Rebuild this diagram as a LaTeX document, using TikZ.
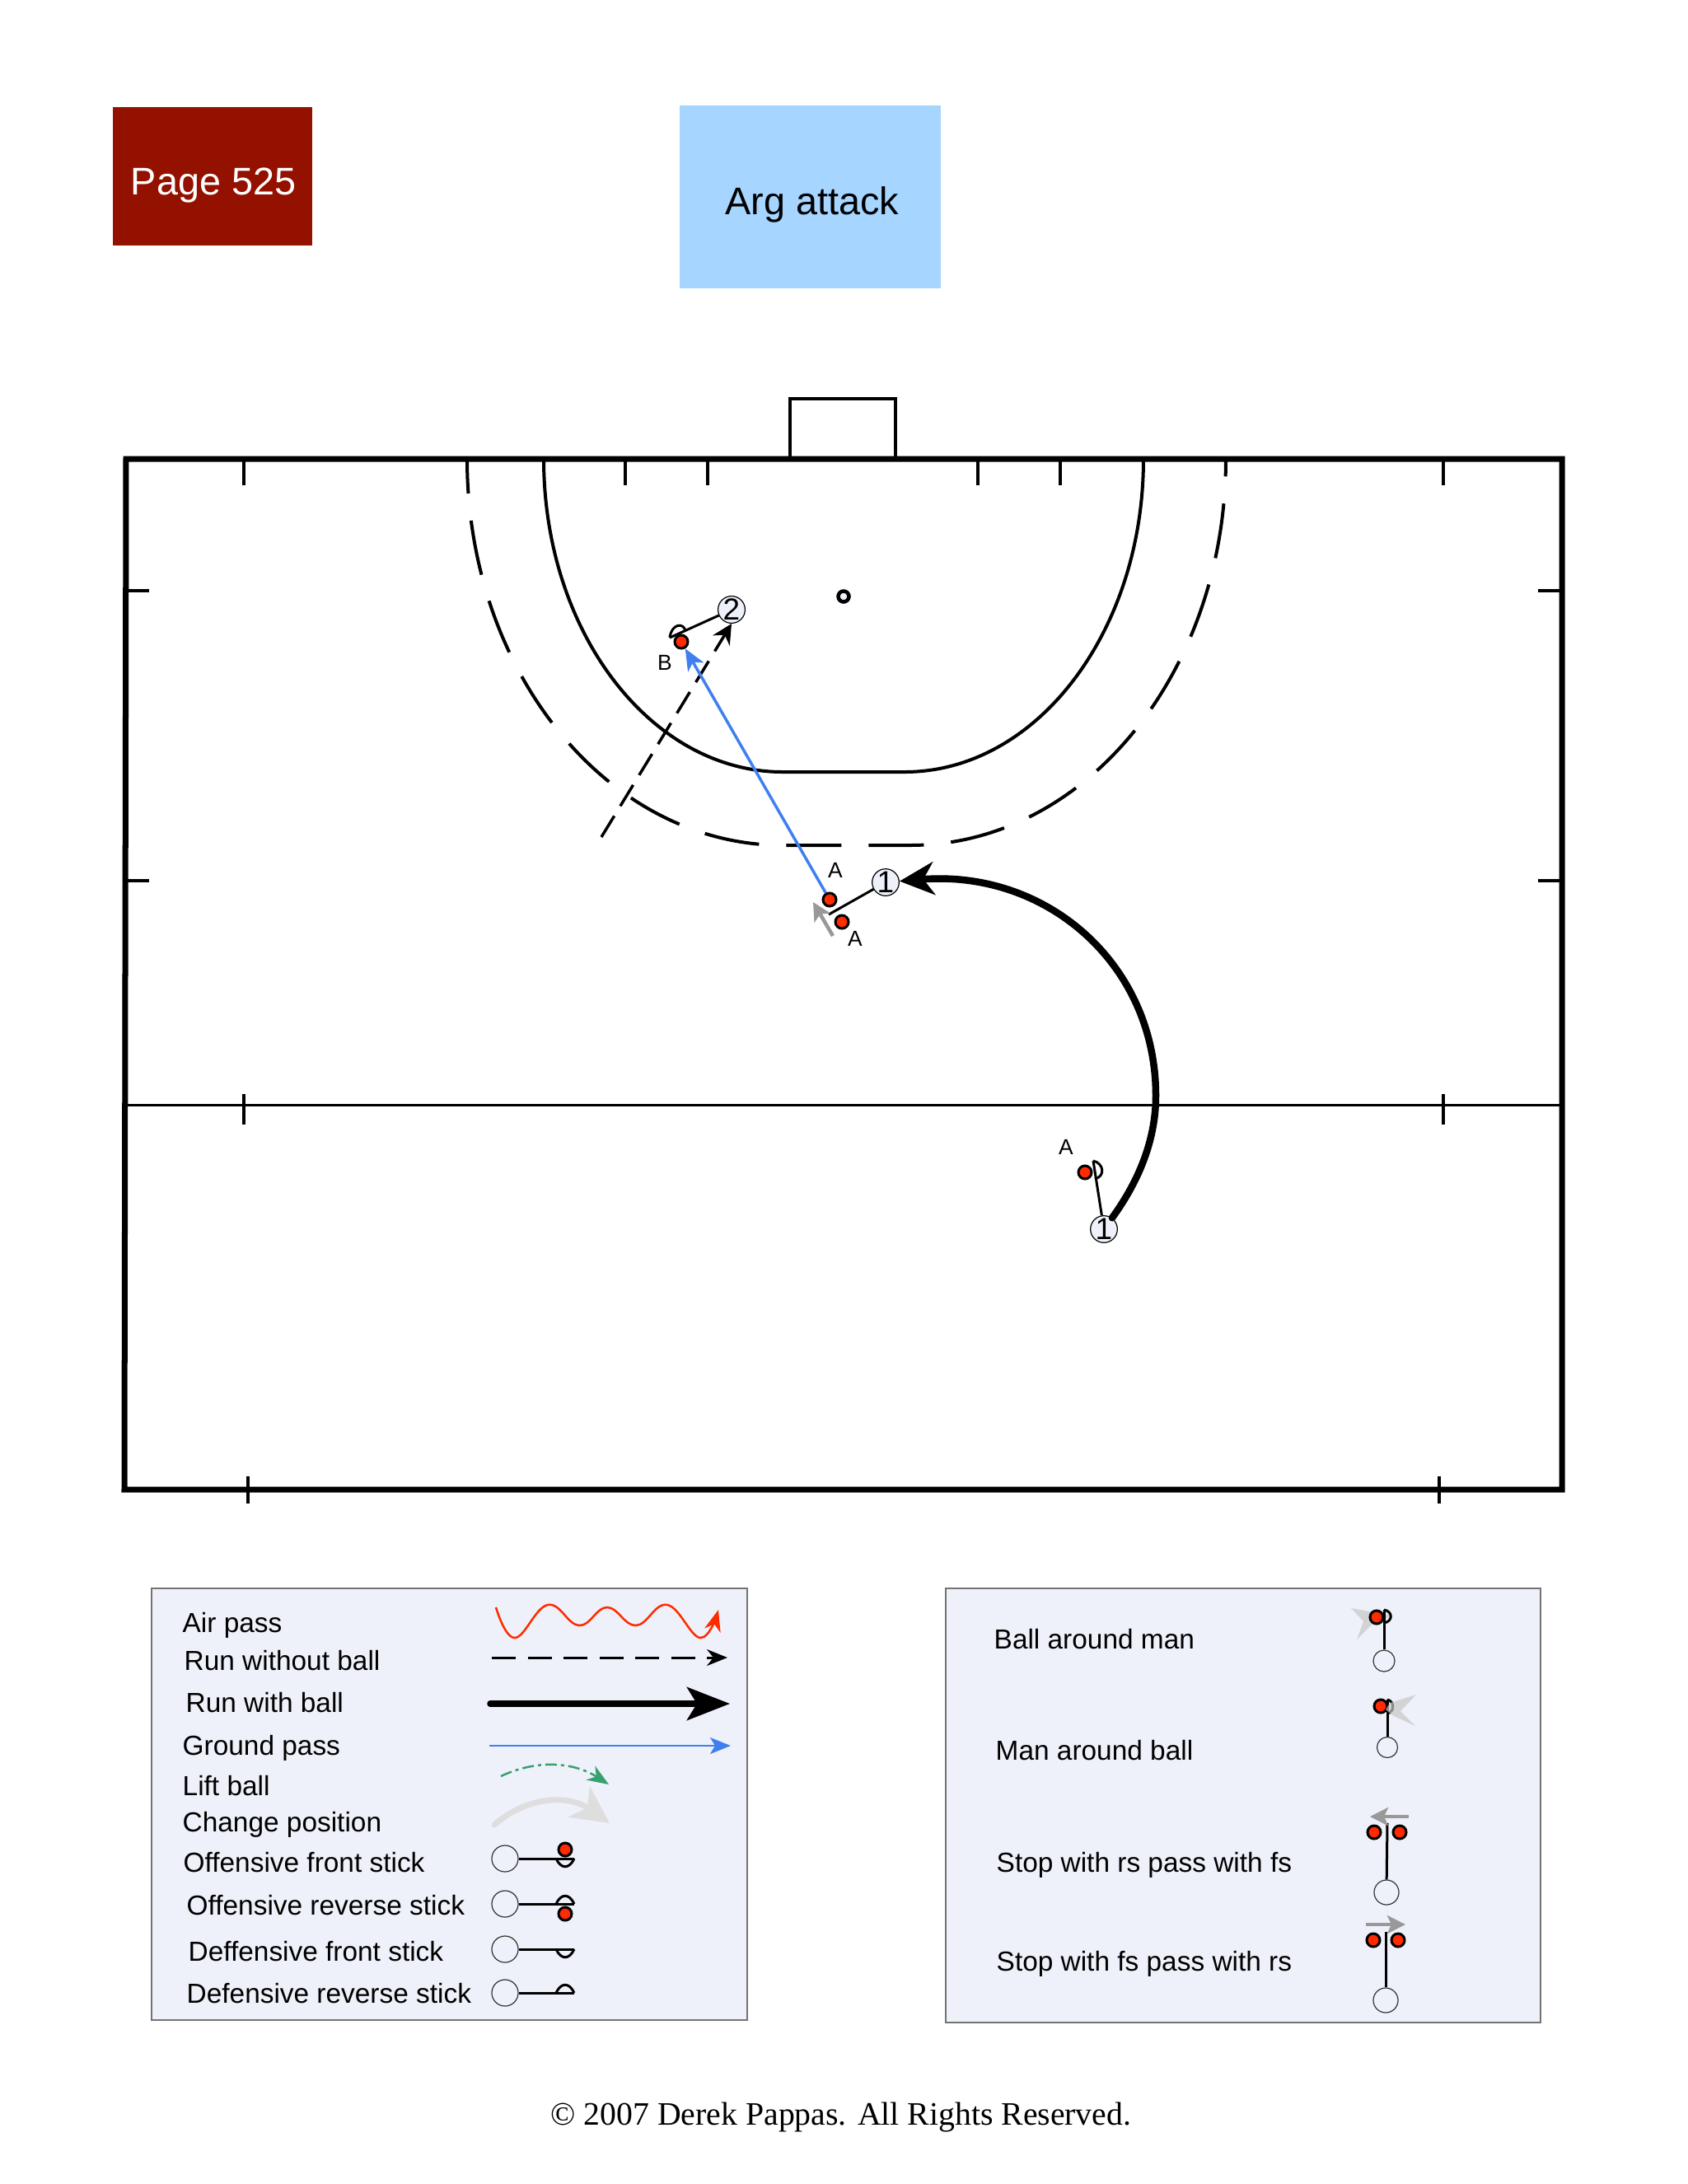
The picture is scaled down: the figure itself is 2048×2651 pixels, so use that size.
\documentclass[tikz,border=0pt]{standalone}
\usepackage{fontspec}
\setmainfont{Liberation Sans}
\newfontfamily\notefont{Liberation Serif}
\usetikzlibrary{arrows.meta}
\definecolor{ballred}{HTML}{FF2A00}
\definecolor{passblue}{HTML}{3F7FEF}
\definecolor{liftgreen}{HTML}{36A070}
\definecolor{legendfill}{HTML}{EEF1F9}
\tikzset{
  player/.style={circle,draw,line width=.012cm,fill=legendfill,minimum size=.3cm,inner sep=0pt,font=\fontsize{10.5}{11}\selectfont},
  ball/.style={circle,draw,line width=.03cm,fill=ballred,minimum size=.16cm,inner sep=0pt},
  tag/.style={inner sep=0pt,font=\fontsize{7.5}{8}\selectfont},
  legendtext/.style={right,inner sep=0pt,font=\fontsize{9.5}{11}\selectfont},
  legendbox/.style={draw=black!55,line width=.015cm,fill=legendfill},
  stick/.style={line width=.03cm},
  hook/.style={line width=.03cm},
  runball/.style={line width=.085cm,-{Stealth[length=.42cm,width=.4cm,inset=.13cm]}},
  runfree/.style={line width=.035cm,dash pattern=on .3cm off .14cm,-{Stealth[length=.24cm,width=.24cm,inset=.08cm]}},
  groundpass/.style={passblue,line width=.035cm,-{Stealth[length=.26cm,width=.22cm,inset=.07cm]}},
  movearrow/.style={black!40,line width=.045cm,-{Stealth[length=.22cm,width=.22cm,inset=.05cm]}},
  pale/.style={draw=none,fill=black!22,fill opacity=.7}
}
\begin{document}
\begin{tikzpicture}[x=.01cm,y=-.01cm]
\useasboundingbox (0,0) rectangle (2048,2651);
% title boxes
\fill [fill={rgb,255:red,148;green,17;blue,0}] (137,130) rectangle (379,298);
\fill [fill={rgb,255:red,166;green,213;blue,255}] (825,128) rectangle (1142,350);
\node (pagetext) [text=white,inner sep=0pt,font=\fontsize{13.3}{15}\selectfont] at (259,225) {Page 525};
\node (titletext) [inner sep=0pt,font=\fontsize{13.3}{15}\selectfont] at (986,248) {Arg attack};
% field
\draw [line width=.07cm,line cap=round] (153,557) -- (1896,557) -- (1896,1808) -- (151,1808) -- cycle;
\draw [line width=.03cm] (151,1341) -- (1896,1341);
\draw [line width=.035cm] (959,557) -- (959,484) -- (1087,484) -- (1087,557);
\foreach \x in {296,759,859,1187,1287,1752}
  \draw [line width=.035cm] (\x,557) -- (\x,589);
\foreach \y in {717,1069}
  \draw [line width=.035cm] (153,\y) -- (181,\y) (1867,\y) -- (1896,\y);
\foreach \x in {296,1752}
  \draw [line width=.035cm] (\x,1328) -- (\x,1365);
\foreach \x in {301,1747}
  \draw [line width=.035cm] (\x,1792) -- (\x,1825);
% circle lines
\draw [line width=.04cm] (660,557) .. controls (660,767) and (790,937) .. (950,937)
 -- (1098,937) .. controls (1258,937) and (1388,767) .. (1388,557);
\draw [line width=.04cm,dash pattern=on .67cm off .33cm,dash phase=.25cm] (567,557) .. controls (567,816) and (738,1026) .. (950,1026)
 -- (1105,1026) .. controls (1317,1026) and (1488,816) .. (1488,557);
\draw [line width=.045cm,fill=legendfill] (1024,724) circle (6.5);
% players
\node (two) [player] at (888,740) {2};
\node (oneup) [player] at (1075,1071) {1};
\node (onelow) [player] at (1340,1492) {1};
\node (ballb) [ball] at (827,779) {};
\node (ballup) [ball] at (1007,1092) {};
\node (ballside) [ball] at (1022,1119) {};
\node (balllow) [ball] at (1317,1423) {};
\node (tagb) [tag] at (807,804) {B};
\node (tagup) [tag] at (1014,1056) {A};
\node (tagside) [tag] at (1038,1139) {A};
\node (taglow) [tag] at (1294,1392) {A};
\coordinate (stickb) at (813,774);
\coordinate (stickup) at (1006,1110);
\coordinate (sticklow) at (1327,1409);
\coordinate (cutstart) at (730,1016);
\coordinate (shiftstart) at (1011,1136);
\coordinate (shiftend) at (987,1095);
\coordinate (turn) at (1403,1330);
\draw [stick] (two) -- (stickb);
\draw [hook] (stickb) .. controls (815,757) and (830,755) .. (832,766);
\draw [stick] (oneup) -- (stickup);
\draw [stick] (onelow) -- (sticklow);
\draw [hook] (sticklow) .. controls (1340,1412) and (1342,1428) .. (1329,1431);
% moves
\draw [runfree] (cutstart) -- (two.south);
\draw [groundpass] (ballup) -- (ballb);
\draw [movearrow] (shiftstart) -- (shiftend);
\draw [line width=.085cm,line cap=round] (onelow) .. controls (1385,1430) and (1403,1380) .. (turn);
\draw [runball] (turn) .. controls (1403,1170) and (1270,1055) .. (oneup);
% left legend
\draw [legendbox] (184,1928) rectangle (907,2452);
\foreach \i/\x/\y/\t in {1/221/1973/Air pass,2/223/2016/Run without ball,3/225/2067/Run with ball,4/221/2122/Ground pass,5/221/2168/Lift ball,6/221/2215/Change position,7/222/2261/Offensive front stick,8/226/2313/Offensive reverse stick,9/228/2369/Deffensive front stick,10/226/2420/Defensive reverse stick}
  \node (left\i) [legendtext] at (\x,\y) {\t};
\draw [ballred,line width=.025cm,-{Stealth[length=.26cm,width=.2cm,inset=.08cm]}] plot [smooth,tension=.7] coordinates {(602,1951) (625,1988) (665,1948) (703,1973) (737,1951) (772,1973) (810,1948) (850,1988) (872,1954)};
\coordinate (freea) at (597,2012);
\coordinate (freeb) at (883,2012);
\draw [line width=.03cm,dash pattern=on .29cm off .145cm,-{Stealth[length=.25cm,width=.2cm,inset=.08cm]}] (freea) -- (freeb);
\coordinate (witha) at (595,2068);
\coordinate (withb) at (886,2068);
\draw [line width=.075cm,line cap=round,-{Stealth[length=.52cm,width=.4cm,inset=.12cm]}] (witha) -- (withb);
\coordinate (grounda) at (594,2119);
\coordinate (groundb) at (887,2119);
\draw [passblue,line width=.02cm,-{Stealth[length=.25cm,width=.2cm,inset=.06cm]}] (grounda) -- (groundb);
\coordinate (lifta) at (608,2156);
\coordinate (liftb) at (739,2166);
\draw [liftgreen,line width=.025cm,dash pattern=on .14cm off .05cm on .04cm off .05cm,-{Stealth[length=.26cm,width=.2cm,inset=.08cm]}] (lifta) .. controls (650,2136) and (695,2138) .. (liftb);
\coordinate (changea) at (600,2215);
\coordinate (changeb) at (740,2213);
\draw [black!13,line width=.07cm,line cap=round,-{Stealth[length=.45cm,width=.45cm,inset=.12cm]}] (changea) .. controls (640,2180) and (690,2178) .. (changeb);
% legend sticks
\foreach \n/\y/\b in {a/2256/1,b/2311/-1,c/2366/1,d/2419/-1} {
  \node (head\n) [player,draw=black!80,minimum size=.32cm] at (613,\y) {};
  \coordinate (tip\n) at (697,\y);
  \draw [stick] (head\n) -- (tip\n);
  \draw [hook] (675,\y) .. controls (681,\y+13*\b) and (691,\y+13*\b) .. (tip\n);
}
\node (balla) [ball] at (686,2245) {};
\node (ballc) [ball] at (686,2323) {};
% right legend
\draw [legendbox] (1148,1928) rectangle (1870,2455);
\foreach \i/\x/\y/\t in {1/1206/1990/Ball around man,2/1208/2125/Man around ball,3/1209/2264/Stop with rs pass with fs,4/1209/2384/Stop with fs pass with rs}
  \node (right\i) [legendtext] at (\x,\y) {\t};
% ball around man
\fill [pale] (1640,1952) -- (1690,1961) -- (1665,1972) -- (1647,1990) -- (1655,1968) -- cycle;
\node (heade) [player,draw=black!80,minimum size=.26cm] at (1680,2016) {};
\coordinate (tipe) at (1680,1954);
\draw [stick] (heade) -- (tipe);
\draw [hook] (tipe) .. controls (1691,1956) and (1691,1968) .. (1680,1970);
\node (balle) [ball] at (1671,1963) {};
% man around ball
\node (headf) [player,draw=black!80,minimum size=.25cm] at (1684,2121) {};
\coordinate (tipf) at (1684,2063);
\draw [stick] (headf) -- (tipf);
\draw [hook] (tipf) .. controls (1693,2065) and (1693,2078) .. (1684,2080);
\node (ballf) [ball] at (1676,2071) {};
\fill [pale] (1719,2057) -- (1687,2067) -- (1682,2075) -- (1690,2082) -- (1718,2095) -- (1700,2077) -- cycle;
% stop with rs
\node (headg) [player,draw=black!80] at (1683,2297) {};
\coordinate (tipg) at (1684,2213);
\draw [stick] (headg) -- (tipg);
\node (ballg) [ball] at (1668,2224) {};
\node (ballh) [ball] at (1699,2224) {};
\coordinate (backa) at (1710,2205);
\coordinate (backb) at (1663,2205);
\draw [movearrow] (backa) -- (backb);
% stop with fs
\node (headi) [player,draw=black!80] at (1682,2428) {};
\coordinate (tipi) at (1682,2345);
\draw [stick] (headi) -- (tipi);
\node (balli) [ball] at (1667,2355) {};
\node (ballj) [ball] at (1697,2355) {};
\coordinate (forea) at (1658,2336);
\coordinate (foreb) at (1706,2336);
\draw [movearrow] (forea) -- (foreb);
% copyright
\node (note) [inner sep=0pt,font=\notefont\fontsize{11.3}{13}\selectfont] at (1021,2570) {© 2007 Derek Pappas. All Rights Reserved.};
\end{tikzpicture}
\end{document}
